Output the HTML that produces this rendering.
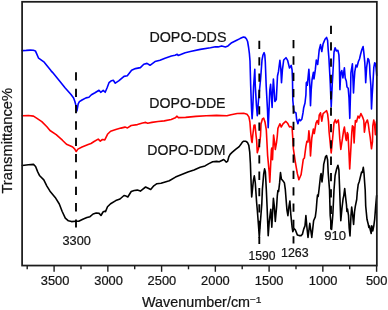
<!DOCTYPE html>
<html><head><meta charset="utf-8"><title>FTIR spectra</title>
<style>
html,body{margin:0;padding:0;background:#fff;}
body{width:388px;height:310px;overflow:hidden;}
svg{display:block;}
text{font-family:"Liberation Sans",Arial,Helvetica,sans-serif;fill:#141414;stroke:#141414;stroke-width:0.22;}
</style></head><body>
<svg width="388" height="310" viewBox="0 0 388 310">
<rect x="0" y="0" width="388" height="310" fill="#fff"/>
<g fill="none" stroke-linejoin="round" stroke-linecap="round" stroke-width="1.6">
<polyline stroke="#0000ff" points="22.2,50.6 26.2,50.4 30.3,50.1 33.4,50.3 35.4,50.9 36.5,53.4 38.6,58.2 44.2,62.2 50.9,70.6 52.7,72.6 60,81.5 65,87.7 71,94.5 73.6,97.9 74.8,101.2 75.7,104.6 76.5,108.8 76.9,110.9 77.6,107.1 78.2,103.8 79.4,101.7 82,100 86,97.9 88.9,97.3 91.4,94.8 95,92.8 99,90.3 100.7,92.3 103.2,90.3 105.2,92.3 107,88 109,82.7 111.5,80.7 113.3,80.2 115.3,83.2 119,80.7 124,76.4 127.3,75.7 131.6,70.2 135.4,68.6 140.4,67.6 143.8,64.2 147,63.4 150,65.3 155,61.6 160,60.3 165,58.2 171.4,56 175,55.2 177.2,54.2 178.2,55.5 185.2,52.7 190.3,51.5 200.3,49.4 210.4,47.7 215.4,46.7 218,46.9 221.7,45.9 225.4,46.9 228,45.9 231.7,42.7 236.7,40.2 240,38.6 243.4,37.1 245.1,37.4 246.5,39 247.6,41.5 248.6,47.5 249.4,53.7 250,61 250.7,86 251.5,108 252.1,118.8 252.8,108 253.6,86 254.8,69.3 255.3,86 256.4,105 257.3,115.6 258.5,100 259.5,90 260.5,80 261,73.5 262,60 263,55 264.1,52.7 264.8,55 265.3,62 266.2,86 267.5,110 268.2,127.8 269,110 269.8,90 270.6,84.3 271.3,95 272.1,107.4 272.8,90 273.4,79.1 274.3,92 274.9,101.5 276.3,99.5 277.5,76 278.5,71.4 279.9,60.3 280.8,68 281.5,82.7 282.4,70 283.7,60 286,57.7 287.6,60.3 289.5,68 291.2,65.4 292.1,70 292.5,80 292.8,100 293.4,106.4 294,111.6 296,112.9 296.6,119.3 297.9,123.8 299.2,119.3 300.5,120.6 301.8,119.3 303,112.9 303.7,107.7 305,103 305.9,95 306.3,82.7 306.9,82 307.3,85.3 308.9,69.2 309.8,85 310.5,105.8 311.2,90 312,80 313.4,72.4 314,78.9 315.3,69.9 316.3,60 317.7,64.5 318.6,56 319.2,50 320.5,44.6 321.8,51.5 323.1,43.9 325,39.3 326.6,37.4 327.6,40.6 328.2,49.6 328.9,58 330.2,81.8 331.2,106.8 332.2,85 332.8,75.3 334,52.2 335.1,47.7 336.4,50.9 337.9,50.3 338.9,54.8 339.3,62.7 339.9,89.6 340.8,72.9 341.8,70.5 342.9,78 344.4,67.7 345.2,78 346.3,81 347,87 348.2,88.2 349,98 349.8,118.4 350.6,90 350.9,72.9 352.4,63.8 353,80 353.5,93 354.2,80 354.8,71.6 356,65 357,67 358.4,61.5 359.5,59 360.6,54.3 361.8,49.8 363.1,46.6 363.8,52.4 364.8,62.7 365.3,72 365.7,82.6 366.6,67.7 367.9,58.5 368.9,60 369.6,65 370,74.2 370.9,85.8 371.5,109 372.2,95 372.8,85.8 373.8,67.7 374.7,62.7 375.5,64 376,67.7 376.7,75.5"/>
<polyline stroke="#ff0000" points="22.2,115.7 28.4,115.5 33.5,116.1 36.6,118.1 41.8,121.6 46.9,126.8 50,130.5 56.2,134.6 62.4,140.2 66.5,144.3 70,145.8 72.7,147 74.8,149.1 76.2,151.5 77.9,149.1 82,147 88.2,144.5 91,143.5 94.1,141.5 98.2,139.1 100.3,141.1 102.4,139.5 104.8,139.9 107.5,134.3 110.6,131.2 115.8,129.6 120.9,128.1 125,127.1 127.5,127.9 131.2,125.5 137.4,124.6 142.6,123 145.7,122.4 147.7,123.2 151.9,122.4 158,121.5 164.2,120.9 171.2,119.5 175.3,117.8 177,116.2 178.4,117.6 185.6,117.4 195.9,116.4 206.2,115.8 216.5,115.4 226.9,115.8 231,114.7 237.2,113.5 243.7,113.3 247,114.3 248.9,116.9 249.9,122 250.8,133.6 251.7,141.4 252.1,142.4 252.8,135 254,125.3 255,125 256,135 256.6,140 257.3,152.8 258.6,148 259.8,141.5 260.5,136 261,124 262.4,119 263.7,118.2 265,122 266.3,129.8 267.6,155.3 269.2,172.1 269.8,182.2 270.8,161.8 271.4,150.2 271.8,148 272.5,159.8 273.6,135 274.3,140 275.3,149.5 276.6,142 277.3,136 277.9,128.4 279.9,123.8 281.2,127 283,123.8 285.7,121.3 287.6,123.2 289.5,127 291,126.5 292.1,127.7 292.8,138.7 293.4,148.9 295.3,161.8 297.3,173.4 298.9,179.7 300.5,176 301.1,174.7 302.4,165.6 303.3,159.2 304.4,157.9 305.9,146.3 306.9,141.2 308,142 308.9,130.9 309.8,140 310.5,156 311.8,138 313.4,129 314.3,133.5 316,123.2 317.2,120.6 318.5,124.3 319.2,115.2 320.5,112.8 321.8,121.2 323.1,113.7 325,112 326.6,110.7 327.6,113.9 328.5,121.6 329.1,132 331.2,153 332.5,140 334,122.9 335.3,119.7 336.4,122.9 337.6,121 338.3,120 338.9,125.5 339.8,138.9 340.8,149.5 342.4,138.9 343.7,129.9 344.4,127.1 345.9,138.9 346.4,140.4 347.3,132.5 348,134 349,153.3 349.7,169 350.6,153.3 351.8,132.4 352.4,125.8 353.4,127 354.1,143 354.8,130 355.4,120.6 356.5,122 358,116.1 359.3,118 360.9,113.5 362.5,116.8 363.8,120.6 364.4,132.2 365.7,123.2 367.4,120 368.3,124 369.2,130.9 370.2,137.4 371.5,148.8 372.5,141.7 372.8,125.8 373.8,120 374.6,125 375.4,134.8 376.3,121.9"/>
<polyline stroke="#000000" points="22.2,165.5 28.4,164.8 33.5,164.4 35.6,166.5 37.6,171.6 39.7,175.8 43.8,179.9 46.9,186.1 50,191.2 55.2,197.4 59.3,204 62.2,211.5 65.3,218.1 68.4,220.8 71.5,221.6 75.6,221.2 78.7,221.2 82.8,219.2 86.9,217.5 90,216.7 93.1,214 96.2,213 99.3,213.4 101,215.5 103,212 104.5,211.3 105.5,211.6 107.5,206.8 110.6,203.7 115.8,200.6 120,199 124,195.5 126.1,196.1 127.8,197 131.2,191.5 134.2,190.5 137.3,190.1 140.4,191.1 142.9,189.1 145.6,187 148.7,188.5 150.7,189.5 153.8,185.8 156.9,183.7 161,183.3 165.2,181.9 169.3,180.8 175.5,177.1 181.7,174.6 187.9,172 194,169.9 200.2,167.2 205,165.9 208.9,163.6 212.7,161.8 216.6,161.4 219.2,161.8 221.8,160.5 223.7,159.5 225,160.8 226.3,162.1 227.6,161.4 228.8,156.9 230.1,154.3 232.1,152.4 235.9,149.2 239.2,146.6 241.1,144 242.4,142.1 243.7,141.2 245.6,141.2 247.5,142.5 248.8,145.3 249.7,151.8 250.4,163.4 250.8,175 251.7,197 253.4,180.3 254.3,175.8 255.3,182.9 256.6,202.2 257.3,210 258.6,227 259.3,237.5 260,227 261.8,204 262.4,189.3 263.7,173.9 264.6,168.9 265.4,172 266.3,189.3 267.1,207 268.2,235.6 269.2,222 269.8,216.9 270.8,209.2 271.8,227.2 273.4,198.4 274.3,206 275.3,221.4 276.6,207 277.3,195.8 277.9,190.6 278.6,191.5 279.6,182.9 280.5,172.6 281.4,179 283.1,181 284.4,182.9 285.3,189.3 286.3,202.2 287,210.4 287.9,215.6 288.9,207 289.9,201 290.8,214.3 292.1,227.2 292.8,231.7 294,228.5 295.3,229.8 297.3,234.9 299.2,235.6 301.1,235.6 302.4,234.3 303.7,229.1 305,225.9 305.9,215.6 306.9,227.2 308,237.5 309.8,223.3 311.8,237.5 313.6,220.8 315.3,216.9 316.2,210 317,199.6 317.5,195.1 318.2,196.5 319.2,188 320.5,176 321.1,173.5 322,182 323,174 323.7,164.4 325.6,156.5 326.6,155.6 327.6,160 328.2,172.9 329.5,189.6 330.2,215.3 331.6,229.5 332.8,215.3 334,190 335.1,175.5 336.6,169 337.9,165.2 338.9,170 339.5,185.3 340.2,205 340.8,220.8 342,208 343.1,198.6 343.8,195.6 344.7,188.5 345.7,198.2 346.5,205 346.9,211.5 347.5,209 348.5,215.3 349.2,228.2 350,236 351,215.3 351.7,207 352.7,215.3 353.6,224.5 354.5,212 355.3,206.3 356.7,199.5 357.3,191.8 358.2,184.5 359.3,181.5 360.6,176 361.6,172 362.3,172.5 363.3,167.4 364,173 364.6,182 365.2,190 365.7,206 367,219.3 368.3,224.5 368.9,227.5 369.6,226 370.2,229.6 371.2,233.5 371.8,225.8 372.8,230.9 373.8,225.8 374.7,219 375.6,207 376.6,195.6"/>
</g>
<g stroke="#000" stroke-width="1.85" fill="none" stroke-dasharray="8.3 8.05">
<line x1="76" y1="72.3" x2="76" y2="227.6"/>
<line x1="259.3" y1="40.8" x2="259.3" y2="244.1"/>
<line x1="293.5" y1="40" x2="293.5" y2="243.6"/>
<line x1="331" y1="25.8" x2="331" y2="229.5"/>
</g>
<rect x="22.1" y="1.8" width="354.75" height="263.75" fill="none" stroke="#1c1c1c" stroke-width="1.75"/>
<g stroke="#1c1c1c" stroke-width="1.4"><line x1="54.1" y1="265.5" x2="54.1" y2="271.8"/><line x1="107.85" y1="265.5" x2="107.85" y2="271.8"/><line x1="161.6" y1="265.5" x2="161.6" y2="271.8"/><line x1="215.35" y1="265.5" x2="215.35" y2="271.8"/><line x1="269.1" y1="265.5" x2="269.1" y2="271.8"/><line x1="322.85" y1="265.5" x2="322.85" y2="271.8"/><line x1="376.6" y1="265.5" x2="376.6" y2="271.8"/><line x1="27.2" y1="265.5" x2="27.2" y2="269.3"/><line x1="81" y1="265.5" x2="81" y2="269.3"/><line x1="134.7" y1="265.5" x2="134.7" y2="269.3"/><line x1="188.5" y1="265.5" x2="188.5" y2="269.3"/><line x1="242.2" y1="265.5" x2="242.2" y2="269.3"/><line x1="296" y1="265.5" x2="296" y2="269.3"/><line x1="349.7" y1="265.5" x2="349.7" y2="269.3"/></g>
<text transform="translate(40.73,285.45) scale(1.03,1)" font-size="12.5">3500</text><text transform="translate(94.28,285.45) scale(1.03,1)" font-size="12.5">3000</text><text transform="translate(147.58,285.45) scale(1.03,1)" font-size="12.5">2500</text><text transform="translate(201.08,285.45) scale(1.03,1)" font-size="12.5">2000</text><text transform="translate(254.83,285.45) scale(1.03,1)" font-size="12.5">1500</text><text transform="translate(308.83,285.45) scale(1.03,1)" font-size="12.5">1000</text><text transform="translate(365.96,285.45) scale(1.03,1)" font-size="12.5">500</text>
<text transform="translate(62.54,244.70) scale(1.035,1)" font-size="12.3">3300</text><text transform="translate(248.58,259.80) scale(1.0,1)" font-size="12.1">1590</text><text transform="translate(281.06,257.30) scale(1.025,1)" font-size="12.1">1263</text><text transform="translate(324.29,240.20) scale(1.05,1)" font-size="12.5">910</text><text transform="translate(149.41,42.40) scale(1.0,1)" font-size="14.3">DOPO-DDS</text><text transform="translate(149.32,107.90) scale(1.0,1)" font-size="14.15">DOPO-DDE</text><text transform="translate(147.32,154.80) scale(1.0,1)" font-size="14.1">DOPO-DDM</text>
<text transform="translate(142.05,307.0) scale(1.041,1)" font-size="13.8">Wavenumber/cm</text>
<text transform="translate(249.7,303.3) scale(1.08,1)" font-size="9.5">−1</text>
<text font-size="14.7" transform="translate(12.1,193.6) rotate(-90)">Transmittance%</text>
</svg>
</body></html>
